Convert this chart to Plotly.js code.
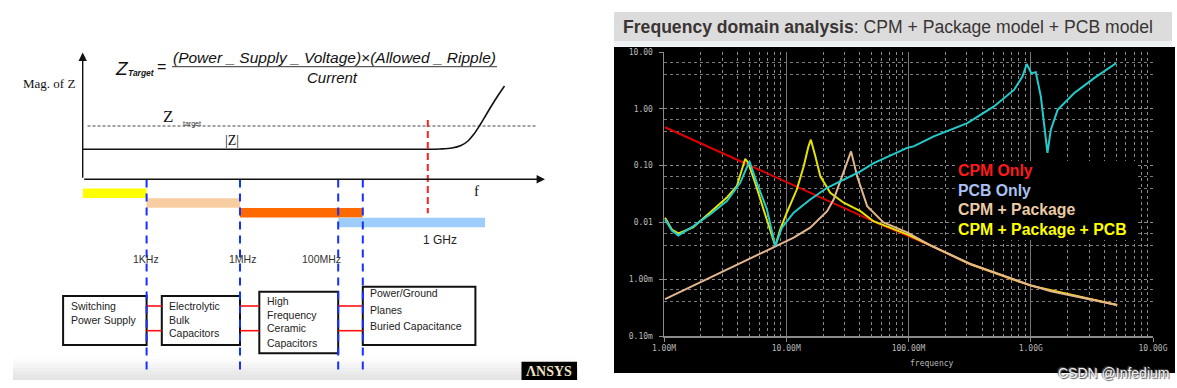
<!DOCTYPE html>
<html><head><meta charset="utf-8">
<script src="https://cdn.plot.ly/plotly-3.0.1.min.js"></script>
<style>html,body{margin:0;padding:0;background:#fff;}#chart{width:1177px;height:388px;}</style>
</head><body><div id="chart"></div>
<script>
// ================= Right panel: impedance vs frequency =================
const freqCPM = [1.02e6, 2e6, 5e6, 1e7, 2e7, 4.04e7, 6.2e7, 1e8, 1.6e8, 3.2e8, 1e9, 2.2e9, 5.1e9];
const zCPM    = [0.473, 0.245, 0.0998, 0.0507, 0.0258, 0.0129, 0.00875, 0.00575, 0.0037, 0.00183, 0.00077, 0.00052, 0.00035];

const freqPCB = [1.02e6,1.16e6,1.31e6,1.74e6,2.38e6,3.27e6,4.2e6,4.76e6,5.0e6,5.75e6,6.95e6,8.13e6,9.22e6,11.5e6,15.7e6,21.6e6,40.4e6,52e6,97.5e6,110e6,161e6,303e6,500e6,729e6,855e6,927e6,1.01e9,1.1e9,1.21e9,1.37e9,1.46e9,1.66e9,2.26e9,3.3e9,4.98e9];
const zPCB    = [0.0113,0.0072,0.0059,0.0086,0.0138,0.0237,0.0497,0.0973,0.119,0.0497,0.0169,0.00384,0.00807,0.0148,0.0253,0.0407,0.0794,0.111,0.205,0.218,0.327,0.561,1.10,2.15,3.69,6.16,4.23,4.40,1.64,0.167,0.428,0.96,1.88,3.46,6.34];

const freqPkg = [1.02e6,8.13e6,11.5e6,15.7e6,21.6e6,24.4e6,28.6e6,31.5e6,33.9e6,38e6,45.9e6,62.4e6,97.5e6,151e6,322e6,1e9,1.46e9,5.07e9];
const zPkg    = [0.000446,0.00384,0.00539,0.00807,0.0158,0.0253,0.0649,0.119,0.178,0.0649,0.0193,0.0100,0.00668,0.00395,0.00185,0.00078,0.000615,0.00035];

const freqAll = [1.02e6,1.16e6,1.31e6,1.73e6,2.38e6,3.27e6,3.94e6,4.33e6,4.61e6,4.88e6,5.57e6,6.52e6,7.63e6,8.13e6,8.93e6,10.1e6,12.2e6,13.9e6,15.2e6,15.9e6,17.3e6,19e6,22.9e6,29.5e6,40.4e6,51.7e6,97.5e6,322e6,1e9,5.1e9];
const zAll    = [0.0121,0.0075,0.0064,0.0082,0.0150,0.0275,0.0434,0.0851,0.131,0.113,0.0497,0.0169,0.00575,0.00384,0.00754,0.0148,0.0379,0.0973,0.218,0.286,0.146,0.0649,0.0332,0.0222,0.0158,0.0105,0.00615,0.00183,0.00077,0.00035];

const seriesNames = ['CPM Only', 'PCB Only', 'CPM + Package', 'CPM + Package + PCB'];
const xTickVals = [1e6, 1e7, 1e8, 1e9, 1e10];
const xTickText = ['1.00M', '10.00M', '100.00M', '1.00G', '10.00G'];
const yTickVals = [1e-4, 1e-3, 1e-2, 1e-1, 1, 10];
const yTickText = ['0.10m', '1.00m', '0.01', '0.10', '1.00', '10.00'];
const rightTitleBold = 'Frequency domain analysis';
const rightTitleRest = ': CPM + Package model + PCB model';
const xAxisTitle = 'frequency';
const watermark = 'CSDN @Infedium';

// ================= Left panel: PDN schematic (diagram units) =================
const boundaryX = [146.6, 240, 338.2, 362.8];          // dashed blue frequency boundaries
const boundaryLabels = ['1KHz', '1MHz', '100MHz'];
const boundaryLabelX = [145.5, 242, 321];
const bandStart = [83, 146.6, 240, 338.2];
const bandEnd   = [146.6, 240, 362.5, 485];
const bandLevel = [193.3, 203, 212.8, 222.5];
const bandColors = ['#ffff00', '#f9cda2', '#ff6a00', '#9fcdfb'];
const zCurveX = [83, 425, 440, 452, 461, 468, 474, 480, 486, 492, 498, 504.5];
const zCurveY = [149.3, 149.3, 149.0, 148.0, 145.5, 141, 134, 125, 115, 105, 95.5, 86];
const zTargetLevel = 126;
const resonanceX = 427.8;
const boxLeft   = [63.1, 161.8, 259.3, 362.8];
const boxRight  = [146.6, 240, 338.2, 475.4];
const boxTop    = [296, 296, 291.7, 286.7];
const boxBottom = [345, 345, 353.3, 345];
const boxLines  = [['Switching', 'Power Supply'], ['Electrolytic', 'Bulk', 'Capacitors'], ['High', 'Frequency', 'Ceramic', 'Capacitors'], ['Power/Ground', 'Planes', 'Buried Capacitance']];
const boxLineY  = [[306, 320], [306, 320, 333.3], [300.7, 315, 328.3, 342.7], [293.3, 309.7, 326]];
const connectorY = [306, 330.7];

// ================= helpers =================
const W = 1177, H = 388;
const px = v => v / W;
const py = v => 1 - v / H;
const XL = 664, XR = 1153, YT = 52, YB = 336;

const traces = [];
traces.push({x: freqCPM, y: zCPM, name: seriesNames[0], mode: 'lines', line: {color: '#e00000', width: 2}, xaxis: 'x', yaxis: 'y'});
traces.push({x: freqAll, y: zAll, name: seriesNames[3], mode: 'lines', line: {color: '#e4e400', width: 2}, xaxis: 'x', yaxis: 'y'});
traces.push({x: freqPkg, y: zPkg, name: seriesNames[2], mode: 'lines', line: {color: '#e2b68e', width: 2}, xaxis: 'x', yaxis: 'y'});
traces.push({x: freqPCB, y: zPCB, name: seriesNames[1], mode: 'lines', line: {color: '#22cccc', width: 2}, xaxis: 'x', yaxis: 'y'});

for (let i = 0; i < bandStart.length; i++) {
  traces.push({x: [bandStart[i], bandEnd[i]], y: [bandLevel[i], bandLevel[i]], mode: 'lines',
    line: {color: bandColors[i], width: 9.5}, xaxis: 'x2', yaxis: 'y2'});
}
traces.push({x: [87.5, 536.7], y: [zTargetLevel, zTargetLevel], mode: 'lines', line: {color: '#444', width: 1, dash: '3px,2px'}, xaxis: 'x2', yaxis: 'y2'});
traces.push({x: zCurveX, y: zCurveY, mode: 'lines', line: {color: '#111', width: 1.6, shape: 'spline', smoothing: 1}, xaxis: 'x2', yaxis: 'y2'});
for (let i = 0; i < 3; i++) {
  for (const cy of connectorY) {
    traces.push({x: [boxRight[i], boxLeft[i + 1]], y: [cy, cy], mode: 'lines', line: {color: '#ff1010', width: 1.6}, xaxis: 'x2', yaxis: 'y2'});
  }
}
traces.push({x: [resonanceX, resonanceX], y: [120, 213.3], mode: 'lines', line: {color: '#ff2020', width: 2, dash: '7px,4px'}, xaxis: 'x2', yaxis: 'y2'});
for (const bx of boundaryX) {
  traces.push({x: [bx, bx], y: [179.5, 373.5], mode: 'lines', line: {color: '#1530ff', width: 2, dash: '8px,6px'}, xaxis: 'x2', yaxis: 'y2'});
}

const xMinor = [], yMinor = [];
for (let e = 6; e < 10; e++) for (let m = 2; m <= 9; m++) xMinor.push(m * Math.pow(10, e));
for (let e = -4; e < 1; e++) for (const m of [4, 6.5]) yMinor.push(m * Math.pow(10, e));

const shapes = [];
shapes.push({type: 'rect', xref: 'paper', yref: 'paper', x0: px(614), x1: px(1172), y0: py(41), y1: py(12), fillcolor: '#dcdcdc', line: {width: 0}, layer: 'below'});
shapes.push({type: 'rect', xref: 'paper', yref: 'paper', x0: px(614), x1: px(1172), y0: py(46.5), y1: py(41), fillcolor: '#eef0f3', line: {width: 0}, layer: 'below'});
shapes.push({type: 'rect', xref: 'paper', yref: 'paper', x0: px(614), x1: px(1175), y0: py(373), y1: py(47), fillcolor: '#000', line: {width: 0}, layer: 'below'});
const bandGrays = ['#fefefe', '#fbfbfb', '#f7f7f7', '#f3f3f3', '#efefef', '#ebebeb', '#e7e7e7', '#e4e4e4'];
for (let i = 0; i < bandGrays.length; i++) {
  shapes.push({type: 'rect', xref: 'paper', yref: 'paper', x0: px(13), x1: px(578), y0: py(356 + 3 * (i + 1)), y1: py(356 + 3 * i), fillcolor: bandGrays[i], line: {width: 0}, layer: 'below'});
}
for (let i = 0; i < boxLeft.length; i++) {
  shapes.push({type: 'rect', xref: 'x2', yref: 'y2', x0: boxLeft[i], x1: boxRight[i], y0: boxTop[i], y1: boxBottom[i], line: {color: '#111', width: 2}, fillcolor: 'rgba(0,0,0,0)', layer: 'below'});
}
shapes.push({type: 'line', xref: 'x2', yref: 'y2', x0: 172, x1: 497, y0: 66.7, y1: 66.7, line: {color: '#333', width: 1}});
shapes.push({type: 'rect', xref: 'x2', yref: 'y2', x0: 521.5, x1: 577, y0: 361.7, y1: 380, fillcolor: '#000', line: {width: 0}});

const ann = [];
const serif = 'Liberation Serif, Times New Roman, serif';
const sans = 'Liberation Sans, Arial, sans-serif';
const mono = 'DejaVu Sans Mono, monospace';
ann.push({xref: 'x2', yref: 'y2', axref: 'x2', ayref: 'y2', x: 82.7, y: 52.5, ax: 82.7, ay: 179.3, text: '', showarrow: true, arrowhead: 2, arrowsize: 1.2, arrowwidth: 1.4, arrowcolor: '#111', standoff: 0, startstandoff: 0});
ann.push({xref: 'x2', yref: 'y2', axref: 'x2', ayref: 'y2', x: 545, y: 179.3, ax: 82.7, ay: 179.3, text: '', showarrow: true, arrowhead: 2, arrowsize: 1.2, arrowwidth: 1.4, arrowcolor: '#111', standoff: 0, startstandoff: 0});
function tx(x, y, text, font, xanchor) {
  ann.push({xref: 'x2', yref: 'y2', x: x, y: y, text: text, showarrow: false, xanchor: xanchor || 'center', yanchor: 'middle', font: font});
}
tx(77, 83.3, 'Mag. of Z', {family: serif, size: 13, color: '#111'}, 'right');
tx(121.5, 68, '<i>Z</i>', {family: sans, size: 19, color: '#111'});
tx(141, 73, '<b><i>Target</i></b>', {family: sans, size: 8.5, color: '#111'});
tx(161, 66, '=', {family: sans, size: 16, color: '#111'});
tx(334.5, 57, '<i>(Power _ Supply _ Voltage)×(Allowed _ Ripple)</i>', {family: sans, size: 15.5, color: '#111'});
tx(332.6, 77.5, '<i>Current</i>', {family: sans, size: 15, color: '#111'});
tx(168, 116.5, 'Z', {family: serif, size: 17, color: '#111'});
tx(181, 123.5, 'target', {family: sans, size: 7, color: '#333'}, 'left');
tx(232.4, 140.5, '|Z|', {family: serif, size: 14, color: '#111'});
tx(476, 190.7, 'f', {family: serif, size: 15, color: '#111'});
tx(439.5, 240, '1 GHz', {family: sans, size: 12, color: '#222'});
for (let i = 0; i < boundaryLabels.length; i++) tx(boundaryLabelX[i], 259, boundaryLabels[i], {family: sans, size: 10.5, color: '#333'});
for (let i = 0; i < boxLines.length; i++) {
  for (let j = 0; j < boxLines[i].length; j++) {
    tx(boxLeft[i] + 5.5, boxLineY[i][j], boxLines[i][j], {family: sans, size: 10.5, color: '#222'}, 'left');
  }
}
tx(549.2, 371, '<b>ΛNSYS</b>', {family: serif, size: 14, color: '#efe2c4'});

ann.push({xref: 'paper', yref: 'paper', x: px(621), y: py(27), xanchor: 'left', yanchor: 'middle', showarrow: false,
  text: '<b>' + rightTitleBold + '</b>' + rightTitleRest, font: {family: sans, size: 17.6, color: '#3a3434'}});
ann.push({xref: 'paper', yref: 'paper', x: px(932), y: py(363), xanchor: 'center', yanchor: 'middle', showarrow: false,
  text: xAxisTitle, font: {family: mono, size: 8, color: '#b8b8b8'}});
// legend entries on a black backing that hides the grid
const legendColors = ['#ff1a1a', '#a9c0f2', '#ebcaa6', '#ffff00'];
const legendY = [171, 190.5, 210, 229.5];
for (let i = 0; i < seriesNames.length; i++) {
  ann.push({xref: 'paper', yref: 'paper', x: px(958), y: py(legendY[i]), xanchor: 'left', yanchor: 'middle', showarrow: false,
    width: 178, height: 19.8, align: 'left', bgcolor: '#000', borderpad: 0, borderwidth: 0,
    text: '<b>' + seriesNames[i] + '</b>', font: {family: sans, size: 15.8, color: legendColors[i]}});
}
ann.push({xref: 'paper', yref: 'paper', x: px(1113), y: py(373), xanchor: 'center', yanchor: 'middle', showarrow: false,
  text: watermark, font: {family: sans, size: 14, color: '#f2f2f2', shadow: '1px 1px 1px #555, -1px -1px 1px #555'}});

const layout = {
  width: W, height: H,
  margin: {l: 0, r: 0, t: 0, b: 0},
  paper_bgcolor: '#ffffff',
  plot_bgcolor: 'rgba(0,0,0,0)',
  showlegend: false,
  xaxis: {
    type: 'log', range: [6, 10], domain: [px(XL), px(XR)], anchor: 'y',
    showline: true, linecolor: '#8a8a8a', linewidth: 1.5,
    showgrid: true, gridcolor: '#767676', gridwidth: 1,
    tickvals: xTickVals, ticktext: xTickText, ticks: 'outside', ticklen: 4, tickcolor: '#8a8a8a',
    tickfont: {family: mono, size: 8, color: '#b8b8b8'},
    minor: {tickvals: xMinor, showgrid: true, gridcolor: '#8a8a8a', gridwidth: 1, griddash: 'dot', ticks: ''},
    zeroline: false, fixedrange: true
  },
  yaxis: {
    type: 'log', range: [-4, 1], domain: [py(YB), py(YT)], anchor: 'x',
    showline: true, linecolor: '#8a8a8a', linewidth: 1.5,
    showgrid: true, gridcolor: '#8a8a8a', gridwidth: 1, griddash: 'dot',
    tickvals: yTickVals, ticktext: yTickText, ticks: 'outside', ticklen: 4, tickcolor: '#8a8a8a',
    ticklabelstandoff: 4,
    tickfont: {family: mono, size: 8, color: '#b8b8b8'},
    minor: {tickvals: yMinor, showgrid: true, gridcolor: '#7a7a7a', gridwidth: 1, griddash: 'dot', ticks: ''},
    zeroline: false, fixedrange: true
  },
  xaxis2: {domain: [0, 1], range: [0, W], anchor: 'y2', visible: false, fixedrange: true},
  yaxis2: {domain: [0, 1], range: [H, 0], anchor: 'x2', visible: false, fixedrange: true},
  shapes: shapes,
  annotations: ann
};

Plotly.newPlot('chart', traces, layout, {staticPlot: true, displayModeBar: false});
</script>
</body></html>
